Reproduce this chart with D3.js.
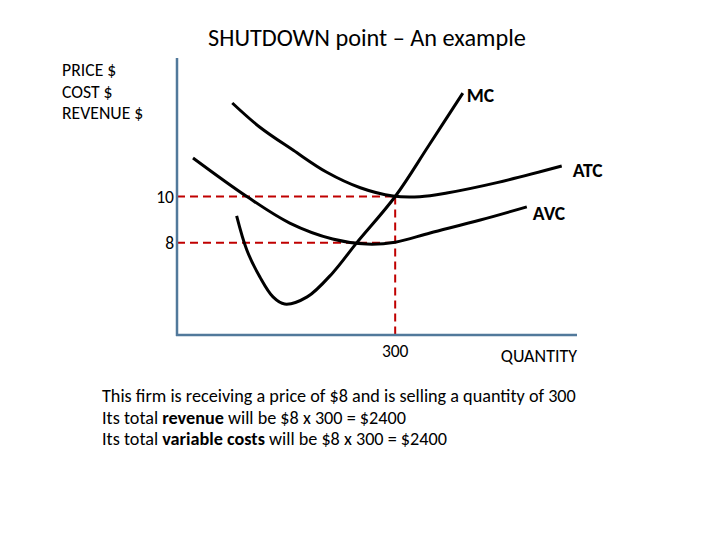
<!DOCTYPE html>
<html>
<head>
<meta charset="utf-8">
<script src="https://cdn.jsdelivr.net/npm/d3@7"></script>
<style>
    body { margin: 0; background: #fff; }
    svg { display: block; font-family: Carlito, Lato, sans-serif; }
</style>
</head>
<body>
<div id="chart"></div>
<script>
// curve points: [quantity, price]
const atcCurve = [[76, 14.05], [114, 13.0], [160, 12.0], [206, 11.05], [252, 10.38], [297, 10.02], [334, 9.99], [371, 10.15], [440, 10.6], [529, 11.32]];
const avcCurve = [[22, 11.67], [96, 10.0], [155, 8.85], [214, 8.16], [261, 7.94], [300, 8.02], [348, 8.42], [417, 8.98], [481, 9.55]];
const mcCurve = [[82, 9.16], [96, 7.68], [114, 6.51], [132, 5.65], [148, 5.34], [179, 5.65], [214, 6.69], [247, 7.99], [300, 10.0], [346, 12.2], [393, 14.48]];

const priceTicks = [10, 8];
const quantityTicks = [300];
const shutdown = { q: 300, atc: 10, price: 8 };

const curveLabels = ['ATC', 'AVC', 'MC'];
const axisLabelY = ['PRICE $', 'COST $', 'REVENUE $'];
const notes = [
    [['This firm is receiving a price of $8 and is selling a quantity of 300', false]],
    [['Its total ', false], ['revenue', true], [' will be $8 x 300 = $2400', false]],
    [['Its total ', false], ['variable costs', true], [' will be $8 x 300 = $2400', false]],
];

const width = 728;
const height = 546;
const margin = { top: 58, right: 153, bottom: 211, left: 177 };

const svg = d3.select('#chart')
    .append('svg')
    .attr('width', width)
    .attr('height', height)
    .attr('viewBox', [0, 0, width, height]);

const x = d3.scaleLinear().domain([0, 550]).range([margin.left, width - margin.right + 2]);
const y = d3.scaleLinear().domain([4, 16]).range([height - margin.bottom, margin.top]);

// title
svg.append('text')
    .attr('x', 367)
    .attr('y', 46)
    .attr('text-anchor', 'middle')
    .style('font-size', '24.3px')
    .text('SHUTDOWN point \u2013 An example');

// y axis label lines
svg.selectAll('.ylab')
    .data(axisLabelY)
    .enter()
    .append('text')
    .attr('class', 'ylab')
    .attr('x', 62)
    .attr('y', (d, i) => 76 + i * 21.5)
    .style('font-size', '17.7px')
    .text((d) => d);

// dashed guide lines
const dash = svg.append('g')
    .attr('stroke', '#c00000')
    .attr('stroke-width', 2)
    .attr('stroke-dasharray', '8,5')
    .attr('fill', 'none');

[shutdown.atc, shutdown.price].forEach((p) => {
    dash.append('line')
        .attr('x1', x(0)).attr('x2', x(shutdown.q))
        .attr('y1', y(p)).attr('y2', y(p));
});
dash.append('line')
    .attr('x1', x(shutdown.q)).attr('x2', x(shutdown.q))
    .attr('y1', y(shutdown.atc)).attr('y2', y(4));

// axes (plain lines, ticks drawn as labels only)
const axisColor = '#51799b';
svg.append('line')
    .attr('x1', x(0)).attr('x2', x(0))
    .attr('y1', y(16)).attr('y2', y(4) + 1)
    .attr('stroke', axisColor).attr('stroke-width', 2.5);
svg.append('line')
    .attr('x1', x(0) - 1).attr('x2', x(550))
    .attr('y1', y(4)).attr('y2', y(4))
    .attr('stroke', axisColor).attr('stroke-width', 2.5);

svg.selectAll('.ytick')
    .data(priceTicks)
    .enter()
    .append('text')
    .attr('class', 'ytick')
    .attr('x', x(0) - 3)
    .attr('y', (d) => y(d) + 6)
    .attr('text-anchor', 'end')
    .style('font-size', '17.5px')
    .text((d) => d);

svg.selectAll('.xtick')
    .data(quantityTicks)
    .enter()
    .append('text')
    .attr('class', 'xtick')
    .attr('x', (d) => x(d))
    .attr('y', y(4) + 22)
    .attr('text-anchor', 'middle')
    .style('font-size', '17.5px')
    .text((d) => d);

svg.append('text')
    .attr('x', x(550))
    .attr('y', y(4) + 27)
    .attr('text-anchor', 'end')
    .style('font-size', '18px')
    .text('QUANTITY');

// cost curves
const line = d3.line()
    .x((d) => x(d[0]))
    .y((d) => y(d[1]))
    .curve(d3.curveCatmullRom.alpha(0.5));

const curves = [atcCurve, avcCurve, mcCurve];
svg.selectAll('.curve')
    .data(curves)
    .enter()
    .append('path')
    .attr('class', 'curve')
    .attr('d', line)
    .attr('fill', 'none')
    .attr('stroke', '#000')
    .attr('stroke-width', 3);

// curve labels at the right end of each curve
const labelOffsets = [[11, 11], [6, 13], [4, 9]];
svg.selectAll('.clab')
    .data(curves)
    .enter()
    .append('text')
    .attr('class', 'clab')
    .attr('x', (d, i) => x(d[d.length - 1][0]) + labelOffsets[i][0])
    .attr('y', (d, i) => y(d[d.length - 1][1]) + labelOffsets[i][1])
    .style('font-size', '19.5px')
    .style('font-weight', 'bold')
    .text((d, i) => curveLabels[i]);

// explanation text
const noteText = svg.selectAll('.note')
    .data(notes)
    .enter()
    .append('text')
    .attr('class', 'note')
    .attr('x', 102)
    .attr('y', (d, i) => 402 + i * 21.6)
    .style('font-size', '18.2px');

noteText.selectAll('tspan')
    .data((d) => d)
    .enter()
    .append('tspan')
    .style('font-weight', (d) => (d[1] ? 'bold' : 'normal'))
    .text((d) => d[0]);
</script>
</body>
</html>
